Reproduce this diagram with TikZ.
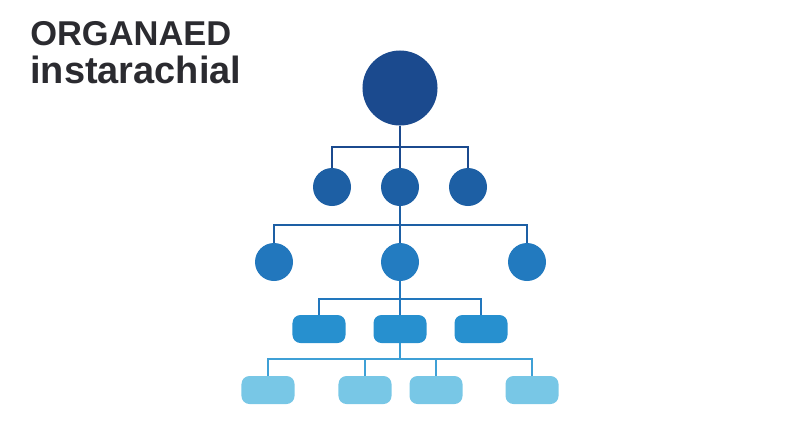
\documentclass[tikz,border=0pt]{standalone}
\usepackage{fontspec}
\setmainfont{Liberation Sans}
\usetikzlibrary{positioning}
\definecolor{titlegray}{HTML}{2B2B30}
\definecolor{blueA}{HTML}{1B4A8E}
\definecolor{blueB}{HTML}{1D5FA4}
\definecolor{blueC}{HTML}{2277BD}
\definecolor{blueD}{HTML}{2790CF}
\definecolor{blueE}{HTML}{78C7E6}
\tikzset{
  rootdot/.style={circle, fill=blueA, minimum size=1.875cm, inner sep=0pt},
  middot/.style={circle, fill=#1, minimum size=0.95cm, inner sep=0pt},
  midbox/.style={rectangle, rounded corners=0.2cm, fill=#1, minimum width=1.325cm, minimum height=0.7cm, inner sep=0pt},
  link/.style={draw=#1, line width=1.3pt}
}

\begin{document}
\begin{tikzpicture}[x=0.025cm, y=-0.025cm]
\useasboundingbox (0,0) rectangle (800,437);
\node[anchor=base west, inner sep=0pt, text=titlegray, font=\bfseries\fontsize{24.5}{28}\selectfont] (title1) at (30,45) {ORGANAED};
\node[anchor=base west, inner sep=0pt, text=titlegray, font=\bfseries\fontsize{27}{30}\selectfont] (title2) at (30,83) {instarachial};

% level 1
\node[rootdot] (root) at (400,88) {};
\coordinate (bar1) at (400,147);
\draw[link=blueA] (root.south) -- (bar1);
% level 2
\node[middot=blueB] (l2a) at (332,187) {};
\node[middot=blueB] (l2b) at (400,187) {};
\node[middot=blueB] (l2c) at (468,187) {};
\draw[link=blueA] (bar1) -| (l2a.north);
\draw[link=blueA] (bar1) -- (l2b.north);
\draw[link=blueA] (bar1) -| (l2c.north);
\coordinate (bar2) at (400,225);
\draw[link=blueB] (l2b.south) -- (bar2);
% level 3
\node[middot=blueC] (l3a) at (274,262) {};
\node[middot=blueC!80!blueD] (l3b) at (400,262) {};
\node[middot=blueC!90!blueD] (l3c) at (527,262) {};
\draw[link=blueB] (bar2) -| (l3a.north);
\draw[link=blueB] (bar2) -- (l3b.north);
\draw[link=blueB] (bar2) -| (l3c.north);
\coordinate (bar3) at (400,299);
\draw[link=blueC] (l3b.south) -- (bar3);
% level 4
\node[midbox=blueD] (l4a) at (319,329) {};
\node[midbox=blueD] (l4b) at (400,329) {};
\node[midbox=blueD] (l4c) at (481,329) {};
\draw[link=blueC] (bar3) -| (l4a.north);
\draw[link=blueC] (bar3) -- (l4b.north);
\draw[link=blueC] (bar3) -| (l4c.north);
\coordinate (bar4) at (400,359);
\draw[link=blueD!80!blueE] (l4b.south) -- (bar4);
% level 5
\node[midbox=blueE] (l5a) at (268,390) {};
\node[midbox=blueE] (l5b) at (365,390) {};
\node[midbox=blueE] (l5c) at (436,390) {};
\node[midbox=blueE] (l5d) at (532,390) {};
\draw[link=blueD!70!blueE] (bar4) -| (l5a.north);
\draw[link=blueD!70!blueE] (bar4) -| (l5b.north);
\draw[link=blueD!70!blueE] (bar4) -| (l5c.north);
\draw[link=blueD!70!blueE] (bar4) -| (l5d.north);
\end{tikzpicture}
\end{document}
